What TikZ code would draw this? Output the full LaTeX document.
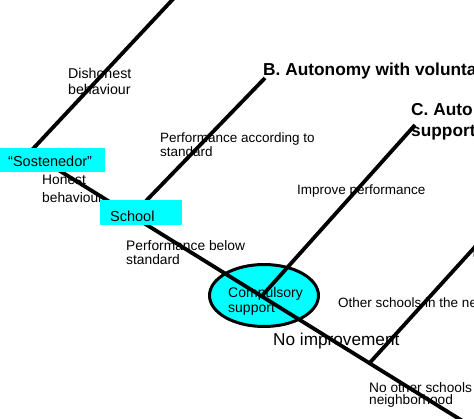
\documentclass[tikz,border=0pt]{standalone}
\usepackage{fontspec}
\setmainfont{Liberation Sans}
\usetikzlibrary{shapes.geometric}
\pgfdeclarelayer{paper}
\pgfdeclarelayer{back}
\pgfdeclarelayer{mid}
\pgfsetlayers{paper,back,mid,main}
\definecolor{cy}{RGB}{0,255,255}
\begin{document}
\begin{tikzpicture}[x=1pt,y=-1pt,
  lbl/.style={anchor=north west,inner sep=0pt,align=left,font=\fontsize{13.5}{15}\selectfont},
  conn/.style={line width=3.8pt},
  box/.style={fill=cy,inner ysep=0pt,anchor=north west,font=\fontsize{14.5}{16}\selectfont},
  title/.style={anchor=north west,inner sep=0pt,align=left,font=\bfseries\fontsize{17.3}{18}\selectfont}]
\useasboundingbox (0,0) rectangle (474,418);
\clip (0,0) rectangle (474,418);
\begin{pgfonlayer}{paper}
  \fill[white] (0,0) rectangle (474,418);
\end{pgfonlayer}

% boxes (top layer)
\node[box, inner xsep=8pt, text width=89pt, text height=18pt, text depth=6pt] (sost) at (0,148) {“Sostenedor”};
\node[box, inner xsep=10pt, text width=62pt, text height=21.7pt, text depth=3.3pt] (school) at (100,200) {School};

\begin{pgfonlayer}{back}
  \node[lbl, font=\fontsize{14.2}{16}\selectfont] (dis) at (68,68) {Dishonest\\behaviour};
  \node[lbl, font=\fontsize{13.5}{13.5}\selectfont] (pas) at (160,133) {Performance according to\\standard};
  \node[lbl, font=\fontsize{13.8}{18}\selectfont] (hon) at (42,175) {Honest\\behaviour};
  \node[lbl, font=\fontsize{13.8}{14.5}\selectfont] (pbs) at (126,240) {Performance below\\standard};
  \node[lbl] (imp) at (297,185) {Improve performance};
  \node[lbl] (oth) at (338,298) {Other schools in the ne};
  \node[lbl, font=\fontsize{17.2}{19}\selectfont] (noimp) at (273,333) {No improvement};
  \node[lbl, font=\fontsize{13.7}{12.5}\selectfont] (noo) at (369,382) {No other schools\\neighborhood};
  \node[title] (tb) at (263,63) {B. Autonomy with volunta};
  \node[title, font=\bfseries\fontsize{17.3}{21}\selectfont] (tc) at (411,103) {C. Auto\\support};
  \node[title] (td) at (472.5,245) {D};
  \node[ellipse, draw, line width=3pt, fill=cy, minimum width=109pt, minimum height=62pt, inner sep=0pt] (cs) at (264,295.5) {};
  \node[lbl, font=\fontsize{14}{15}\selectfont] (cstext) at (228,286.7) {Compulsory\\support};
\end{pgfonlayer}

\begin{pgfonlayer}{mid}
  \coordinate (mS) at (40,158.6);
  \coordinate (mE) at (465,422.5);
  \coordinate (jC) at (262,295.8);
  \coordinate (jD) at (370,362.5);
  \coordinate (aS) at (30,152);
  \coordinate (aE) at (175,-3);
  \coordinate (bS) at (145,202);
  \coordinate (bE) at (265,78);
  \coordinate (cE) at (415,125);
  \coordinate (dE) at (478,243.6);
  \draw[conn] (mS) -- (mE);
  \draw[conn] (aS) -- (aE);
  \draw[conn] (bS) -- (bE);
  \draw[conn] (jC) -- (cE);
  \draw[conn] (jD) -- (dE);
\end{pgfonlayer}
\end{tikzpicture}
\end{document}
